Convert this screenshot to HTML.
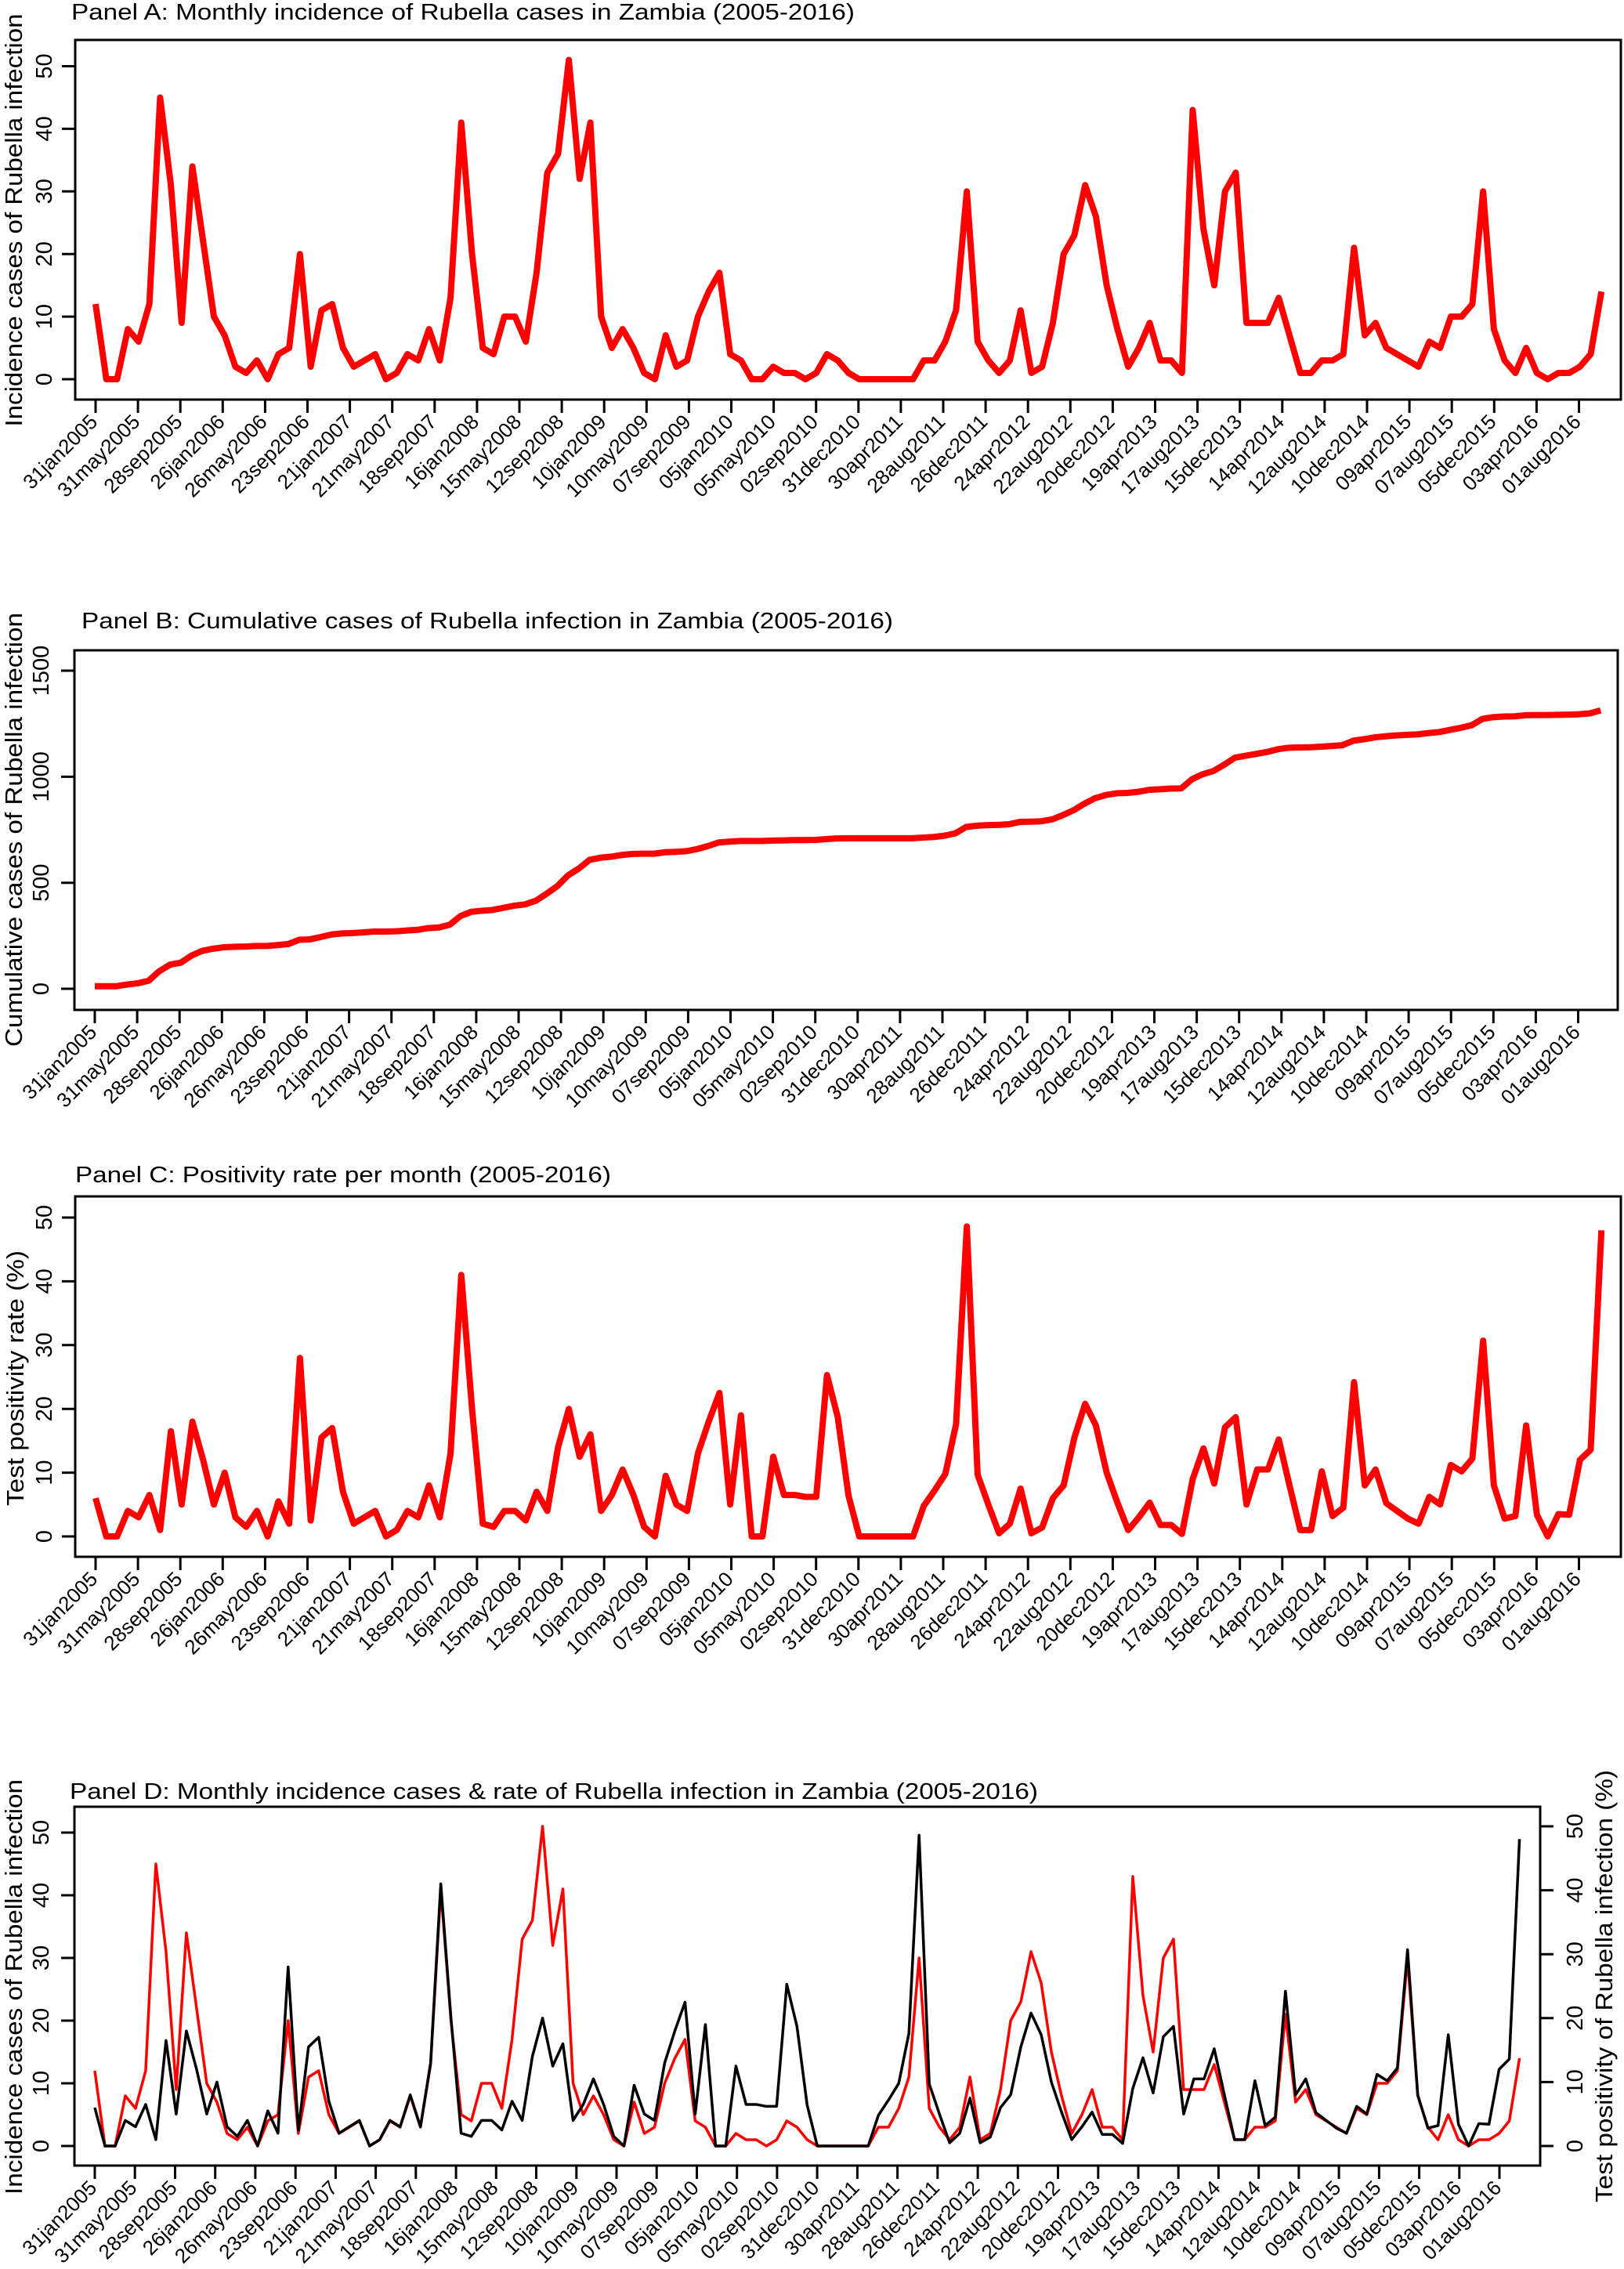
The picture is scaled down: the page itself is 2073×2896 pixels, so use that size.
<!DOCTYPE html>
<html><head><meta charset="utf-8"><style>
html,body{margin:0;padding:0;background:#fff}
svg{display:block}
text{font-family:"Liberation Sans",Arial,sans-serif;fill:#000}
.t{font-size:29px}
.tl{font-size:26px}
.yl{font-size:29px}
.ax{font-size:31px}
.k{stroke:#000;stroke-width:3;fill:none}
</style></head><body>
<svg width="2073" height="2896" viewBox="0 0 2073 2896" xmlns="http://www.w3.org/2000/svg">
<rect width="2073" height="2896" fill="#fff"/>

<!-- ============ PANEL A ============ -->
<text class="t" x="91" y="25" textLength="1000" lengthAdjust="spacingAndGlyphs">Panel A: Monthly incidence of Rubella cases in Zambia (2005-2016)</text>
<rect class="k" x="96" y="51" width="1973" height="459"/>
<path class="k" d="M79,484h17M79,404.1h17M79,324.2h17M79,244.3h17M79,164.4h17M79,84.5h17"/>
<g class="yl" text-anchor="middle">
<text transform="translate(66,484) rotate(-90)">0</text>
<text transform="translate(66,404.1) rotate(-90)">10</text>
<text transform="translate(66,324.2) rotate(-90)">20</text>
<text transform="translate(66,244.3) rotate(-90)">30</text>
<text transform="translate(66,164.4) rotate(-90)">40</text>
<text transform="translate(66,84.5) rotate(-90)">50</text>
</g>
<text class="ax" text-anchor="middle" transform="translate(28,281) rotate(-90)" textLength="527" lengthAdjust="spacingAndGlyphs">Incidence cases of Rubella infection</text>
<path class="k" d="M122,510v17M176.1,510v17M230.2,510v17M284.3,510v17M338.4,510v17M392.5,510v17M446.6,510v17M500.7,510v17M554.8,510v17M608.9,510v17M663,510v17M717.1,510v17M771.2,510v17M825.3,510v17M879.4,510v17M933.5,510v17M987.6,510v17M1041.7,510v17M1095.8,510v17M1149.9,510v17M1204,510v17M1258.1,510v17M1312.2,510v17M1366.3,510v17M1420.4,510v17M1474.5,510v17M1528.6,510v17M1582.7,510v17M1636.8,510v17M1690.9,510v17M1745,510v17M1799.1,510v17M1853.2,510v17M1907.3,510v17M1961.4,510v17M2015.5,510v17"/>
<g class="tl" text-anchor="end" transform="translate(4,540)">
<text transform="translate(122) rotate(-45)">31jan2005</text>
<text transform="translate(176.1) rotate(-45)">31may2005</text>
<text transform="translate(230.2) rotate(-45)">28sep2005</text>
<text transform="translate(284.3) rotate(-45)">26jan2006</text>
<text transform="translate(338.4) rotate(-45)">26may2006</text>
<text transform="translate(392.5) rotate(-45)">23sep2006</text>
<text transform="translate(446.6) rotate(-45)">21jan2007</text>
<text transform="translate(500.7) rotate(-45)">21may2007</text>
<text transform="translate(554.8) rotate(-45)">18sep2007</text>
<text transform="translate(608.9) rotate(-45)">16jan2008</text>
<text transform="translate(663) rotate(-45)">15may2008</text>
<text transform="translate(717.1) rotate(-45)">12sep2008</text>
<text transform="translate(771.2) rotate(-45)">10jan2009</text>
<text transform="translate(825.3) rotate(-45)">10may2009</text>
<text transform="translate(879.4) rotate(-45)">07sep2009</text>
<text transform="translate(933.5) rotate(-45)">05jan2010</text>
<text transform="translate(987.6) rotate(-45)">05may2010</text>
<text transform="translate(1041.7) rotate(-45)">02sep2010</text>
<text transform="translate(1095.8) rotate(-45)">31dec2010</text>
<text transform="translate(1149.9) rotate(-45)">30apr2011</text>
<text transform="translate(1204) rotate(-45)">28aug2011</text>
<text transform="translate(1258.1) rotate(-45)">26dec2011</text>
<text transform="translate(1312.2) rotate(-45)">24apr2012</text>
<text transform="translate(1366.3) rotate(-45)">22aug2012</text>
<text transform="translate(1420.4) rotate(-45)">20dec2012</text>
<text transform="translate(1474.5) rotate(-45)">19apr2013</text>
<text transform="translate(1528.6) rotate(-45)">17aug2013</text>
<text transform="translate(1582.7) rotate(-45)">15dec2013</text>
<text transform="translate(1636.8) rotate(-45)">14apr2014</text>
<text transform="translate(1690.9) rotate(-45)">12aug2014</text>
<text transform="translate(1745) rotate(-45)">10dec2014</text>
<text transform="translate(1799.1) rotate(-45)">09apr2015</text>
<text transform="translate(1853.2) rotate(-45)">07aug2015</text>
<text transform="translate(1907.3) rotate(-45)">05dec2015</text>
<text transform="translate(1961.4) rotate(-45)">03apr2016</text>
<text transform="translate(2015.5) rotate(-45)">01aug2016</text>
</g>
<g transform="translate(122,484) scale(13.73,-7.99)">
<polyline fill="none" stroke="#f00" stroke-width="8" stroke-linejoin="round" vector-effect="non-scaling-stroke" points="0,12 1,0 2,0 3,8 4,6 5,12 6,45 7,31 8,9 9,34 10,22 11,10 12,7 13,2 14,1 15,3 16,0 17,4 18,5 19,20 20,2 21,11 22,12 23,5 24,2 25,3 26,4 27,0 28,1 29,4 30,3 31,8 32,3 33,13 34,41 35,20 36,5 37,4 38,10 39,10 40,6 41,17 42,33 43,36 44,51 45,32 46,41 47,10 48,5 49,8 50,5 51,1 52,0 53,7 54,2 55,3 56,10 57,14 58,17 59,4 60,3 61,0 62,0 63,2 64,1 65,1 66,0 67,1 68,4 69,3 70,1 71,0 72,0 73,0 74,0 75,0 76,0 77,3 78,3 79,6 80,11 81,30 82,6 83,3 84,1 85,3 86,11 87,1 88,2 89,9 90,20 91,23 92,31 93,26 94,15 95,8 96,2 97,5 98,9 99,3 100,3 101,1 102,43 103,24 104,15 105,30 106,33 107,9 108,9 109,9 110,13 111,7 112,1 113,1 114,3 115,3 116,4 117,21 118,7 119,9 120,5 121,4 122,3 123,2 124,6 125,5 126,10 127,10 128,12 129,30 130,8 131,3 132,1 133,5 134,1 135,0 136,1 137,1 138,2 139,4 140,14"/>
</g>

<!-- ============ PANEL B ============ -->
<text class="t" x="104" y="802" textLength="1036" lengthAdjust="spacingAndGlyphs">Panel B: Cumulative cases of Rubella infection in Zambia (2005-2016)</text>
<rect class="k" x="95" y="830" width="1970" height="459"/>
<path class="k" d="M78,1262h17M78,1126.7h17M78,991.4h17M78,856h17"/>
<g class="yl" text-anchor="middle">
<text transform="translate(62,1262) rotate(-90)">0</text>
<text transform="translate(62,1126.7) rotate(-90)">500</text>
<text transform="translate(62,991.4) rotate(-90)">1000</text>
<text transform="translate(62,856) rotate(-90)">1500</text>
</g>
<text class="ax" text-anchor="middle" transform="translate(28,1059) rotate(-90)" textLength="554" lengthAdjust="spacingAndGlyphs">Cumulative cases of Rubella infection</text>
<path class="k" d="M121,1289v17M175.1,1289v17M229.2,1289v17M283.3,1289v17M337.4,1289v17M391.5,1289v17M445.6,1289v17M499.7,1289v17M553.8,1289v17M607.9,1289v17M662,1289v17M716.1,1289v17M770.2,1289v17M824.3,1289v17M878.4,1289v17M932.5,1289v17M986.6,1289v17M1040.7,1289v17M1094.8,1289v17M1148.9,1289v17M1203,1289v17M1257.1,1289v17M1311.2,1289v17M1365.3,1289v17M1419.4,1289v17M1473.5,1289v17M1527.6,1289v17M1581.7,1289v17M1635.8,1289v17M1689.9,1289v17M1744,1289v17M1798.1,1289v17M1852.2,1289v17M1906.3,1289v17M1960.4,1289v17M2014.5,1289v17"/>
<g class="tl" text-anchor="end" transform="translate(3,1319)">
<text transform="translate(122) rotate(-45)">31jan2005</text>
<text transform="translate(176.1) rotate(-45)">31may2005</text>
<text transform="translate(230.2) rotate(-45)">28sep2005</text>
<text transform="translate(284.3) rotate(-45)">26jan2006</text>
<text transform="translate(338.4) rotate(-45)">26may2006</text>
<text transform="translate(392.5) rotate(-45)">23sep2006</text>
<text transform="translate(446.6) rotate(-45)">21jan2007</text>
<text transform="translate(500.7) rotate(-45)">21may2007</text>
<text transform="translate(554.8) rotate(-45)">18sep2007</text>
<text transform="translate(608.9) rotate(-45)">16jan2008</text>
<text transform="translate(663) rotate(-45)">15may2008</text>
<text transform="translate(717.1) rotate(-45)">12sep2008</text>
<text transform="translate(771.2) rotate(-45)">10jan2009</text>
<text transform="translate(825.3) rotate(-45)">10may2009</text>
<text transform="translate(879.4) rotate(-45)">07sep2009</text>
<text transform="translate(933.5) rotate(-45)">05jan2010</text>
<text transform="translate(987.6) rotate(-45)">05may2010</text>
<text transform="translate(1041.7) rotate(-45)">02sep2010</text>
<text transform="translate(1095.8) rotate(-45)">31dec2010</text>
<text transform="translate(1149.9) rotate(-45)">30apr2011</text>
<text transform="translate(1204) rotate(-45)">28aug2011</text>
<text transform="translate(1258.1) rotate(-45)">26dec2011</text>
<text transform="translate(1312.2) rotate(-45)">24apr2012</text>
<text transform="translate(1366.3) rotate(-45)">22aug2012</text>
<text transform="translate(1420.4) rotate(-45)">20dec2012</text>
<text transform="translate(1474.5) rotate(-45)">19apr2013</text>
<text transform="translate(1528.6) rotate(-45)">17aug2013</text>
<text transform="translate(1582.7) rotate(-45)">15dec2013</text>
<text transform="translate(1636.8) rotate(-45)">14apr2014</text>
<text transform="translate(1690.9) rotate(-45)">12aug2014</text>
<text transform="translate(1745) rotate(-45)">10dec2014</text>
<text transform="translate(1799.1) rotate(-45)">09apr2015</text>
<text transform="translate(1853.2) rotate(-45)">07aug2015</text>
<text transform="translate(1907.3) rotate(-45)">05dec2015</text>
<text transform="translate(1961.4) rotate(-45)">03apr2016</text>
<text transform="translate(2015.5) rotate(-45)">01aug2016</text>
</g>
<g transform="translate(121,1262) scale(13.73,-0.2706)">
<polyline fill="none" stroke="#f00" stroke-width="8" stroke-linejoin="round" vector-effect="non-scaling-stroke" points="0,12 1,12 2,12 3,20 4,26 5,38 6,83 7,114 8,123 9,157 10,179 11,189 12,196 13,198 14,199 15,202 16,202 17,206 18,211 19,231 20,233 21,244 22,256 23,261 24,263 25,266 26,270 27,270 28,271 29,275 30,278 31,286 32,289 33,302 34,343 35,363 36,368 37,372 38,382 39,392 40,398 41,415 42,448 43,484 44,535 45,567 46,608 47,618 48,623 49,631 50,636 51,637 52,637 53,644 54,646 55,649 56,659 57,673 58,690 59,694 60,697 61,697 62,697 63,699 64,700 65,701 66,701 67,702 68,706 69,709 70,710 71,710 72,710 73,710 74,710 75,710 76,710 77,713 78,716 79,722 80,733 81,763 82,769 83,772 84,773 85,776 86,787 87,788 88,790 89,799 90,819 91,842 92,873 93,899 94,914 95,922 96,924 97,929 98,938 99,941 100,944 101,945 102,988 103,1012 104,1027 105,1057 106,1090 107,1099 108,1108 109,1117 110,1130 111,1137 112,1138 113,1139 114,1142 115,1145 116,1149 117,1170 118,1177 119,1186 120,1191 121,1195 122,1198 123,1200 124,1206 125,1211 126,1221 127,1231 128,1243 129,1273 130,1281 131,1284 132,1285 133,1290 134,1291 135,1291 136,1292 137,1293 138,1295 139,1299 140,1313"/>
</g>

<!-- ============ PANEL C ============ -->
<text class="t" x="96" y="1509" textLength="684" lengthAdjust="spacingAndGlyphs">Panel C: Positivity rate per month (2005-2016)</text>
<rect class="k" x="96" y="1527" width="1973" height="460"/>
<path class="k" d="M79,1961h17M79,1879.6h17M79,1798.2h17M79,1716.8h17M79,1635.4h17M79,1554h17"/>
<g class="yl" text-anchor="middle">
<text transform="translate(66,1961) rotate(-90)">0</text>
<text transform="translate(66,1879.6) rotate(-90)">10</text>
<text transform="translate(66,1798.2) rotate(-90)">20</text>
<text transform="translate(66,1716.8) rotate(-90)">30</text>
<text transform="translate(66,1635.4) rotate(-90)">40</text>
<text transform="translate(66,1554) rotate(-90)">50</text>
</g>
<text class="ax" text-anchor="middle" transform="translate(30,1759) rotate(-90)" textLength="326" lengthAdjust="spacingAndGlyphs">Test positivity rate (%)</text>
<path class="k" d="M122,1987v17M176.1,1987v17M230.2,1987v17M284.3,1987v17M338.4,1987v17M392.5,1987v17M446.6,1987v17M500.7,1987v17M554.8,1987v17M608.9,1987v17M663,1987v17M717.1,1987v17M771.2,1987v17M825.3,1987v17M879.4,1987v17M933.5,1987v17M987.6,1987v17M1041.7,1987v17M1095.8,1987v17M1149.9,1987v17M1204,1987v17M1258.1,1987v17M1312.2,1987v17M1366.3,1987v17M1420.4,1987v17M1474.5,1987v17M1528.6,1987v17M1582.7,1987v17M1636.8,1987v17M1690.9,1987v17M1745,1987v17M1799.1,1987v17M1853.2,1987v17M1907.3,1987v17M1961.4,1987v17M2015.5,1987v17"/>
<g class="tl" text-anchor="end" transform="translate(4,2017)">
<text transform="translate(122) rotate(-45)">31jan2005</text>
<text transform="translate(176.1) rotate(-45)">31may2005</text>
<text transform="translate(230.2) rotate(-45)">28sep2005</text>
<text transform="translate(284.3) rotate(-45)">26jan2006</text>
<text transform="translate(338.4) rotate(-45)">26may2006</text>
<text transform="translate(392.5) rotate(-45)">23sep2006</text>
<text transform="translate(446.6) rotate(-45)">21jan2007</text>
<text transform="translate(500.7) rotate(-45)">21may2007</text>
<text transform="translate(554.8) rotate(-45)">18sep2007</text>
<text transform="translate(608.9) rotate(-45)">16jan2008</text>
<text transform="translate(663) rotate(-45)">15may2008</text>
<text transform="translate(717.1) rotate(-45)">12sep2008</text>
<text transform="translate(771.2) rotate(-45)">10jan2009</text>
<text transform="translate(825.3) rotate(-45)">10may2009</text>
<text transform="translate(879.4) rotate(-45)">07sep2009</text>
<text transform="translate(933.5) rotate(-45)">05jan2010</text>
<text transform="translate(987.6) rotate(-45)">05may2010</text>
<text transform="translate(1041.7) rotate(-45)">02sep2010</text>
<text transform="translate(1095.8) rotate(-45)">31dec2010</text>
<text transform="translate(1149.9) rotate(-45)">30apr2011</text>
<text transform="translate(1204) rotate(-45)">28aug2011</text>
<text transform="translate(1258.1) rotate(-45)">26dec2011</text>
<text transform="translate(1312.2) rotate(-45)">24apr2012</text>
<text transform="translate(1366.3) rotate(-45)">22aug2012</text>
<text transform="translate(1420.4) rotate(-45)">20dec2012</text>
<text transform="translate(1474.5) rotate(-45)">19apr2013</text>
<text transform="translate(1528.6) rotate(-45)">17aug2013</text>
<text transform="translate(1582.7) rotate(-45)">15dec2013</text>
<text transform="translate(1636.8) rotate(-45)">14apr2014</text>
<text transform="translate(1690.9) rotate(-45)">12aug2014</text>
<text transform="translate(1745) rotate(-45)">10dec2014</text>
<text transform="translate(1799.1) rotate(-45)">09apr2015</text>
<text transform="translate(1853.2) rotate(-45)">07aug2015</text>
<text transform="translate(1907.3) rotate(-45)">05dec2015</text>
<text transform="translate(1961.4) rotate(-45)">03apr2016</text>
<text transform="translate(2015.5) rotate(-45)">01aug2016</text>
</g>
<g transform="translate(122,1961) scale(13.73,-8.14)">
<polyline fill="none" stroke="#f00" stroke-width="8" stroke-linejoin="round" vector-effect="non-scaling-stroke" points="0,6 1,0 2,0 3,4 4,3 5,6.5 6,1 7,16.5 8,5 9,18 10,12 11,5 12,10 13,3 14,1.5 15,4 16,0 17,5.5 18,2 19,28 20,2.5 21,15.5 22,17 23,7 24,2 25,3 26,4 27,0 28,1 29,4 30,3 31,8 32,3 33,13 34,41 35,20 36,2 37,1.5 38,4 39,4 40,2.5 41,7 42,4 43,14 44,20 45,12.5 46,16 47,4 48,6.5 49,10.5 50,6.5 51,1.5 52,0 53,9.5 54,5 55,4 56,13 57,18 58,22.5 59,5 60,19 61,0 62,0 63,12.5 64,6.5 65,6.5 66,6.2 67,6.2 68,25.3 69,18.7 70,6.4 71,0 72,0 73,0 74,0 75,0 76,0 77,4.8 78,7.2 79,9.8 80,17.6 81,48.6 82,9.7 83,5 84,0.5 85,2 86,7.5 87,0.5 88,1.4 89,6 90,8 91,15.5 92,20.8 93,17.4 94,10 95,5.3 96,1 97,3 98,5.3 99,1.8 100,1.8 101,0.4 102,9 103,13.8 104,8.3 105,17.1 106,18.7 107,5 108,10.5 109,10.5 110,15.2 111,8 112,1 113,1 114,10.2 115,3.2 116,4.5 117,24.2 118,8 119,10.5 120,5.2 121,4 122,2.8 123,2 124,6.2 125,5 126,11.2 127,10.2 128,12.2 129,30.7 130,8 131,2.8 132,3.2 133,17.4 134,3.4 135,0 136,3.5 137,3.4 138,12 139,13.6 140,48"/>
</g>

<!-- ============ PANEL D ============ -->
<text class="t" x="89" y="2296" textLength="1236" lengthAdjust="spacingAndGlyphs">Panel D: Monthly incidence cases &amp; rate of Rubella infection in Zambia (2005-2016)</text>
<rect class="k" x="95" y="2306" width="1871" height="458"/>
<path class="k" d="M78,2739h17M78,2659h17M78,2579h17M78,2499h17M78,2419h17M78,2339h17"/>
<path class="k" d="M1966,2739h17M1966,2657.4h17M1966,2575.8h17M1966,2494.2h17M1966,2412.6h17M1966,2331h17"/>
<g class="yl" text-anchor="middle">
<text transform="translate(62,2739) rotate(-90)">0</text>
<text transform="translate(62,2659) rotate(-90)">10</text>
<text transform="translate(62,2579) rotate(-90)">20</text>
<text transform="translate(62,2499) rotate(-90)">30</text>
<text transform="translate(62,2419) rotate(-90)">40</text>
<text transform="translate(62,2339) rotate(-90)">50</text>
<text transform="translate(2020,2739) rotate(-90)">0</text>
<text transform="translate(2020,2657.4) rotate(-90)">10</text>
<text transform="translate(2020,2575.8) rotate(-90)">20</text>
<text transform="translate(2020,2494.2) rotate(-90)">30</text>
<text transform="translate(2020,2412.6) rotate(-90)">40</text>
<text transform="translate(2020,2331) rotate(-90)">50</text>
</g>
<text class="ax" text-anchor="middle" transform="translate(28,2536) rotate(-90)" textLength="530" lengthAdjust="spacingAndGlyphs">Incidence cases of Rubella infection</text>
<text class="ax" text-anchor="middle" transform="translate(2058,2535) rotate(-90)" textLength="552" lengthAdjust="spacingAndGlyphs">Test positivity of Rubella infection (%)</text>
<path class="k" d="M121,2764v17M172.2,2764v17M223.5,2764v17M274.7,2764v17M325.9,2764v17M377.2,2764v17M428.4,2764v17M479.6,2764v17M530.8,2764v17M582.1,2764v17M633.3,2764v17M684.5,2764v17M735.8,2764v17M787,2764v17M838.2,2764v17M889.5,2764v17M940.7,2764v17M991.9,2764v17M1043.1,2764v17M1094.4,2764v17M1145.6,2764v17M1196.8,2764v17M1248.1,2764v17M1299.3,2764v17M1350.5,2764v17M1401.8,2764v17M1453,2764v17M1504.2,2764v17M1555.4,2764v17M1606.7,2764v17M1657.9,2764v17M1709.1,2764v17M1760.4,2764v17M1811.6,2764v17M1862.8,2764v17M1914,2764v17"/>
<g class="tl" text-anchor="end" transform="translate(4,2794)">
<text transform="translate(121) rotate(-45)">31jan2005</text>
<text transform="translate(172.2) rotate(-45)">31may2005</text>
<text transform="translate(223.5) rotate(-45)">28sep2005</text>
<text transform="translate(274.7) rotate(-45)">26jan2006</text>
<text transform="translate(325.9) rotate(-45)">26may2006</text>
<text transform="translate(377.2) rotate(-45)">23sep2006</text>
<text transform="translate(428.4) rotate(-45)">21jan2007</text>
<text transform="translate(479.6) rotate(-45)">21may2007</text>
<text transform="translate(530.8) rotate(-45)">18sep2007</text>
<text transform="translate(582.1) rotate(-45)">16jan2008</text>
<text transform="translate(633.3) rotate(-45)">15may2008</text>
<text transform="translate(684.5) rotate(-45)">12sep2008</text>
<text transform="translate(735.8) rotate(-45)">10jan2009</text>
<text transform="translate(787) rotate(-45)">10may2009</text>
<text transform="translate(838.2) rotate(-45)">07sep2009</text>
<text transform="translate(889.5) rotate(-45)">05jan2010</text>
<text transform="translate(940.7) rotate(-45)">05may2010</text>
<text transform="translate(991.9) rotate(-45)">02sep2010</text>
<text transform="translate(1043.1) rotate(-45)">31dec2010</text>
<text transform="translate(1094.4) rotate(-45)">30apr2011</text>
<text transform="translate(1145.6) rotate(-45)">28aug2011</text>
<text transform="translate(1196.8) rotate(-45)">26dec2011</text>
<text transform="translate(1248.1) rotate(-45)">24apr2012</text>
<text transform="translate(1299.3) rotate(-45)">22aug2012</text>
<text transform="translate(1350.5) rotate(-45)">20dec2012</text>
<text transform="translate(1401.8) rotate(-45)">19apr2013</text>
<text transform="translate(1453) rotate(-45)">17aug2013</text>
<text transform="translate(1504.2) rotate(-45)">15dec2013</text>
<text transform="translate(1555.4) rotate(-45)">14apr2014</text>
<text transform="translate(1606.7) rotate(-45)">12aug2014</text>
<text transform="translate(1657.9) rotate(-45)">10dec2014</text>
<text transform="translate(1709.1) rotate(-45)">09apr2015</text>
<text transform="translate(1760.4) rotate(-45)">07aug2015</text>
<text transform="translate(1811.6) rotate(-45)">05dec2015</text>
<text transform="translate(1862.8) rotate(-45)">03apr2016</text>
<text transform="translate(1914) rotate(-45)">01aug2016</text>
</g>
<g transform="translate(121,2739) scale(12.99,-8.0)">
<polyline fill="none" stroke="#f00" stroke-width="3.5" stroke-linejoin="round" vector-effect="non-scaling-stroke" points="0,12 1,0 2,0 3,8 4,6 5,12 6,45 7,31 8,9 9,34 10,22 11,10 12,7 13,2 14,1 15,3 16,0 17,4 18,5 19,20 20,2 21,11 22,12 23,5 24,2 25,3 26,4 27,0 28,1 29,4 30,3 31,8 32,3 33,13 34,41 35,20 36,5 37,4 38,10 39,10 40,6 41,17 42,33 43,36 44,51 45,32 46,41 47,10 48,5 49,8 50,5 51,1 52,0 53,7 54,2 55,3 56,10 57,14 58,17 59,4 60,3 61,0 62,0 63,2 64,1 65,1 66,0 67,1 68,4 69,3 70,1 71,0 72,0 73,0 74,0 75,0 76,0 77,3 78,3 79,6 80,11 81,30 82,6 83,3 84,1 85,3 86,11 87,1 88,2 89,9 90,20 91,23 92,31 93,26 94,15 95,8 96,2 97,5 98,9 99,3 100,3 101,1 102,43 103,24 104,15 105,30 106,33 107,9 108,9 109,9 110,13 111,7 112,1 113,1 114,3 115,3 116,4 117,21 118,7 119,9 120,5 121,4 122,3 123,2 124,6 125,5 126,10 127,10 128,12 129,30 130,8 131,3 132,1 133,5 134,1 135,0 136,1 137,1 138,2 139,4 140,14"/>
</g>
<g transform="translate(121,2739) scale(12.99,-8.16)">
<polyline fill="none" stroke="#000" stroke-width="3.5" stroke-linejoin="round" vector-effect="non-scaling-stroke" points="0,6 1,0 2,0 3,4 4,3 5,6.5 6,1 7,16.5 8,5 9,18 10,12 11,5 12,10 13,3 14,1.5 15,4 16,0 17,5.5 18,2 19,28 20,2.5 21,15.5 22,17 23,7 24,2 25,3 26,4 27,0 28,1 29,4 30,3 31,8 32,3 33,13 34,41 35,20 36,2 37,1.5 38,4 39,4 40,2.5 41,7 42,4 43,14 44,20 45,12.5 46,16 47,4 48,6.5 49,10.5 50,6.5 51,1.5 52,0 53,9.5 54,5 55,4 56,13 57,18 58,22.5 59,5 60,19 61,0 62,0 63,12.5 64,6.5 65,6.5 66,6.2 67,6.2 68,25.3 69,18.7 70,6.4 71,0 72,0 73,0 74,0 75,0 76,0 77,4.8 78,7.2 79,9.8 80,17.6 81,48.6 82,9.7 83,5 84,0.5 85,2 86,7.5 87,0.5 88,1.4 89,6 90,8 91,15.5 92,20.8 93,17.4 94,10 95,5.3 96,1 97,3 98,5.3 99,1.8 100,1.8 101,0.4 102,9 103,13.8 104,8.3 105,17.1 106,18.7 107,5 108,10.5 109,10.5 110,15.2 111,8 112,1 113,1 114,10.2 115,3.2 116,4.5 117,24.2 118,8 119,10.5 120,5.2 121,4 122,2.8 123,2 124,6.2 125,5 126,11.2 127,10.2 128,12.2 129,30.7 130,8 131,2.8 132,3.2 133,17.4 134,3.4 135,0 136,3.5 137,3.4 138,12 139,13.6 140,48"/>
</g>
</svg>
</body></html>
